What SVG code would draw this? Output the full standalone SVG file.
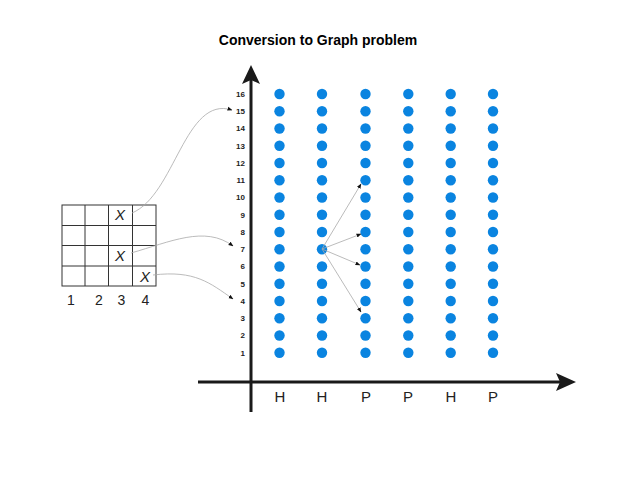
<svg xmlns="http://www.w3.org/2000/svg" width="638" height="478" viewBox="0 0 638 478">
<defs>
<style>
.title{font-family:"Liberation Sans",Arial,sans-serif;font-weight:bold;font-size:14px;fill:#000}
.num{font-family:"Liberation Sans",Arial,sans-serif;font-weight:bold;font-size:8px;fill:#222;text-anchor:end}
.lab{font-family:"Liberation Sans",Arial,sans-serif;font-size:15px;fill:#222;text-anchor:middle}
.col{font-family:"Liberation Sans",Arial,sans-serif;font-size:14px;fill:#222;text-anchor:middle}
.x{font-family:"Liberation Sans",Arial,sans-serif;font-style:italic;font-size:15px;fill:#222;text-anchor:middle}
.axis{stroke:#1a1a1a;stroke-width:3;fill:none}
.grid{stroke:#333;stroke-width:1;fill:none}
.curve{stroke:#aaa;stroke-width:0.8;fill:none;marker-end:url(#ah)}
.dot{fill:#0a84e0}
</style>
<marker id="ah" viewBox="0 0 10 10" refX="9" refY="5" markerWidth="5" markerHeight="5" markerUnits="userSpaceOnUse" orient="auto">
<path d="M0,1 L10,5 L0,9 z" fill="#111"/>
</marker>
</defs>
<rect width="638" height="478" fill="#fff"/>
<text class="title" x="318" y="45" text-anchor="middle">Conversion to Graph problem</text>

<g id="axes">
<line class="axis" x1="198" y1="382" x2="560" y2="382"/>
<polygon points="576,382 556,373 560,382 556,391" fill="#1a1a1a"/>
<line class="axis" x1="251" y1="412" x2="251" y2="80"/>
<polygon points="251,65 242,84 251,80 260,84" fill="#1a1a1a"/>
</g>

<g id="y-labels">
<text class="num" x="245" y="97">16</text>
<text class="num" x="245" y="114">15</text>
<text class="num" x="245" y="131">14</text>
<text class="num" x="245" y="149">13</text>
<text class="num" x="245" y="166">12</text>
<text class="num" x="245" y="183">11</text>
<text class="num" x="245" y="200">10</text>
<text class="num" x="245" y="218">9</text>
<text class="num" x="245" y="235">8</text>
<text class="num" x="245" y="252">7</text>
<text class="num" x="245" y="269">6</text>
<text class="num" x="245" y="287">5</text>
<text class="num" x="245" y="304">4</text>
<text class="num" x="245" y="321">3</text>
<text class="num" x="245" y="338">2</text>
<text class="num" x="245" y="356">1</text>
</g>

<g id="x-labels">
<text class="lab" x="280" y="402">H</text>
<text class="lab" x="322" y="402">H</text>
<text class="lab" x="366" y="402">P</text>
<text class="lab" x="408" y="402">P</text>
<text class="lab" x="451" y="402">H</text>
<text class="lab" x="493" y="402">P</text>
</g>

<g id="dots">
<g id="col1"><circle class="dot" cx="279.5" cy="94" r="5.2"/><circle class="dot" cx="279.5" cy="111.25" r="5.2"/><circle class="dot" cx="279.5" cy="128.5" r="5.2"/><circle class="dot" cx="279.5" cy="145.75" r="5.2"/><circle class="dot" cx="279.5" cy="163" r="5.2"/><circle class="dot" cx="279.5" cy="180.25" r="5.2"/><circle class="dot" cx="279.5" cy="197.5" r="5.2"/><circle class="dot" cx="279.5" cy="214.75" r="5.2"/><circle class="dot" cx="279.5" cy="232" r="5.2"/><circle class="dot" cx="279.5" cy="249.25" r="5.2"/><circle class="dot" cx="279.5" cy="266.5" r="5.2"/><circle class="dot" cx="279.5" cy="283.75" r="5.2"/><circle class="dot" cx="279.5" cy="301" r="5.2"/><circle class="dot" cx="279.5" cy="318.25" r="5.2"/><circle class="dot" cx="279.5" cy="335.5" r="5.2"/><circle class="dot" cx="279.5" cy="352.75" r="5.2"/></g>
<g id="col2"><circle class="dot" cx="322" cy="94" r="5.2"/><circle class="dot" cx="322" cy="111.25" r="5.2"/><circle class="dot" cx="322" cy="128.5" r="5.2"/><circle class="dot" cx="322" cy="145.75" r="5.2"/><circle class="dot" cx="322" cy="163" r="5.2"/><circle class="dot" cx="322" cy="180.25" r="5.2"/><circle class="dot" cx="322" cy="197.5" r="5.2"/><circle class="dot" cx="322" cy="214.75" r="5.2"/><circle class="dot" cx="322" cy="232" r="5.2"/><circle class="dot" cx="322" cy="249.25" r="5.2"/><circle class="dot" cx="322" cy="266.5" r="5.2"/><circle class="dot" cx="322" cy="283.75" r="5.2"/><circle class="dot" cx="322" cy="301" r="5.2"/><circle class="dot" cx="322" cy="318.25" r="5.2"/><circle class="dot" cx="322" cy="335.5" r="5.2"/><circle class="dot" cx="322" cy="352.75" r="5.2"/></g>
<g id="col3"><circle class="dot" cx="365.5" cy="94" r="5.2"/><circle class="dot" cx="365.5" cy="111.25" r="5.2"/><circle class="dot" cx="365.5" cy="128.5" r="5.2"/><circle class="dot" cx="365.5" cy="145.75" r="5.2"/><circle class="dot" cx="365.5" cy="163" r="5.2"/><circle class="dot" cx="365.5" cy="180.25" r="5.2"/><circle class="dot" cx="365.5" cy="197.5" r="5.2"/><circle class="dot" cx="365.5" cy="214.75" r="5.2"/><circle class="dot" cx="365.5" cy="232" r="5.2"/><circle class="dot" cx="365.5" cy="249.25" r="5.2"/><circle class="dot" cx="365.5" cy="266.5" r="5.2"/><circle class="dot" cx="365.5" cy="283.75" r="5.2"/><circle class="dot" cx="365.5" cy="301" r="5.2"/><circle class="dot" cx="365.5" cy="318.25" r="5.2"/><circle class="dot" cx="365.5" cy="335.5" r="5.2"/><circle class="dot" cx="365.5" cy="352.75" r="5.2"/></g>
<g id="col4"><circle class="dot" cx="408.3" cy="94" r="5.2"/><circle class="dot" cx="408.3" cy="111.25" r="5.2"/><circle class="dot" cx="408.3" cy="128.5" r="5.2"/><circle class="dot" cx="408.3" cy="145.75" r="5.2"/><circle class="dot" cx="408.3" cy="163" r="5.2"/><circle class="dot" cx="408.3" cy="180.25" r="5.2"/><circle class="dot" cx="408.3" cy="197.5" r="5.2"/><circle class="dot" cx="408.3" cy="214.75" r="5.2"/><circle class="dot" cx="408.3" cy="232" r="5.2"/><circle class="dot" cx="408.3" cy="249.25" r="5.2"/><circle class="dot" cx="408.3" cy="266.5" r="5.2"/><circle class="dot" cx="408.3" cy="283.75" r="5.2"/><circle class="dot" cx="408.3" cy="301" r="5.2"/><circle class="dot" cx="408.3" cy="318.25" r="5.2"/><circle class="dot" cx="408.3" cy="335.5" r="5.2"/><circle class="dot" cx="408.3" cy="352.75" r="5.2"/></g>
<g id="col5"><circle class="dot" cx="450.7" cy="94" r="5.2"/><circle class="dot" cx="450.7" cy="111.25" r="5.2"/><circle class="dot" cx="450.7" cy="128.5" r="5.2"/><circle class="dot" cx="450.7" cy="145.75" r="5.2"/><circle class="dot" cx="450.7" cy="163" r="5.2"/><circle class="dot" cx="450.7" cy="180.25" r="5.2"/><circle class="dot" cx="450.7" cy="197.5" r="5.2"/><circle class="dot" cx="450.7" cy="214.75" r="5.2"/><circle class="dot" cx="450.7" cy="232" r="5.2"/><circle class="dot" cx="450.7" cy="249.25" r="5.2"/><circle class="dot" cx="450.7" cy="266.5" r="5.2"/><circle class="dot" cx="450.7" cy="283.75" r="5.2"/><circle class="dot" cx="450.7" cy="301" r="5.2"/><circle class="dot" cx="450.7" cy="318.25" r="5.2"/><circle class="dot" cx="450.7" cy="335.5" r="5.2"/><circle class="dot" cx="450.7" cy="352.75" r="5.2"/></g>
<g id="col6"><circle class="dot" cx="493" cy="94" r="5.2"/><circle class="dot" cx="493" cy="111.25" r="5.2"/><circle class="dot" cx="493" cy="128.5" r="5.2"/><circle class="dot" cx="493" cy="145.75" r="5.2"/><circle class="dot" cx="493" cy="163" r="5.2"/><circle class="dot" cx="493" cy="180.25" r="5.2"/><circle class="dot" cx="493" cy="197.5" r="5.2"/><circle class="dot" cx="493" cy="214.75" r="5.2"/><circle class="dot" cx="493" cy="232" r="5.2"/><circle class="dot" cx="493" cy="249.25" r="5.2"/><circle class="dot" cx="493" cy="266.5" r="5.2"/><circle class="dot" cx="493" cy="283.75" r="5.2"/><circle class="dot" cx="493" cy="301" r="5.2"/><circle class="dot" cx="493" cy="318.25" r="5.2"/><circle class="dot" cx="493" cy="335.5" r="5.2"/><circle class="dot" cx="493" cy="352.75" r="5.2"/></g>
</g>

<g id="board">
<rect class="grid" x="62" y="205" width="94" height="81"/>
<line class="grid" x1="85" y1="205" x2="85" y2="286"/>
<line class="grid" x1="108.5" y1="205" x2="108.5" y2="286"/>
<line class="grid" x1="132.5" y1="205" x2="132.5" y2="286"/>
<line class="grid" x1="62" y1="225.5" x2="156" y2="225.5"/>
<line class="grid" x1="62" y1="245.5" x2="156" y2="245.5"/>
<line class="grid" x1="62" y1="266" x2="156" y2="266"/>
<text class="x" x="120" y="220">X</text>
<text class="x" x="120" y="261">X</text>
<text class="x" x="145" y="282">X</text>
<text class="col" x="71" y="305">1</text>
<text class="col" x="99" y="305">2</text>
<text class="col" x="121.5" y="305">3</text>
<text class="col" x="145.5" y="305">4</text>
</g>

<g id="connectors">
<path class="curve" d="M132,213 C175,195 185,95 232,110"/>
<path class="curve" d="M131,253 C170,242 205,225 233,246"/>
<path class="curve" d="M153,275 C195,270 210,283 233,299"/>
<path class="curve" d="M322,249 L361,184"/>
<path class="curve" d="M322,249 L361,234"/>
<path class="curve" d="M322,249 L360,265"/>
<path class="curve" d="M322,249 L361,312"/>
</g>
</svg>
